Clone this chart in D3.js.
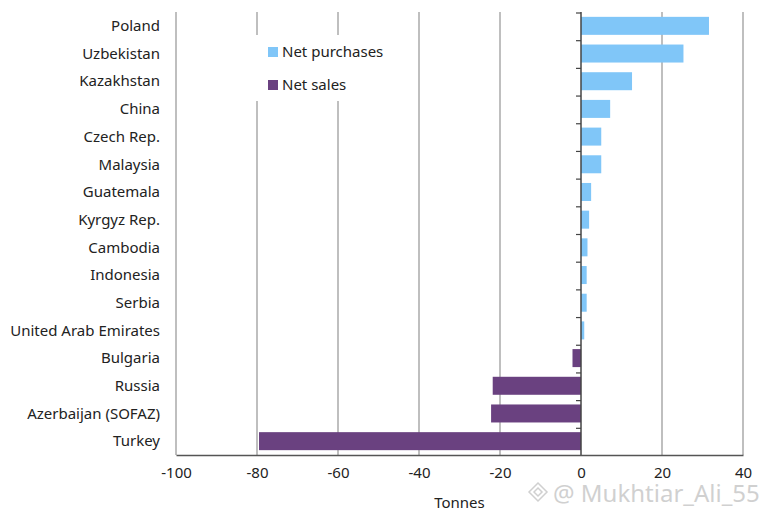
<!DOCTYPE html>
<html>
<head>
<meta charset="utf-8">
<script src="https://cdn.jsdelivr.net/npm/d3@7"></script>
<style>
  body { margin: 0; background: #fff; }
  svg { font-family: "Noto Sans", "Open Sans", sans-serif; }
</style>
</head>
<body>
<script>
const countries = ["Poland", "Uzbekistan", "Kazakhstan", "China", "Czech Rep.", "Malaysia", "Guatemala",
    "Kyrgyz Rep.", "Cambodia", "Indonesia", "Serbia", "United Arab Emirates", "Bulgaria", "Russia",
    "Azerbaijan (SOFAZ)", "Turkey"];
const tonnes = [31.6, 25.3, 12.6, 7.2, 5.0, 5.0, 2.5, 2.0, 1.6, 1.4, 1.4, 0.8, -2.1, -21.8, -22.2, -79.5];
const xTicks = [-100, -80, -60, -40, -20, 0, 20, 40];
const legendLabels = ["Net purchases", "Net sales"];

const width = 768;
const height = 518;
const margin = { top: 12, right: 25, bottom: 63, left: 176 };
const blue = "#80c6f8";
const purple = "#6a4180";

const svg = d3.select("body")
              .append("svg")
              .attr("width", width)
              .attr("height", height);

const xScale = d3.scaleLinear()
                 .domain([-100, 40])
                 .range([margin.left, width - margin.right]);

const yScale = d3.scaleBand()
                 .domain(countries)
                 .range([margin.top, height - margin.bottom])
                 .paddingInner(0.35)
                 .paddingOuter(0.175);

// vertical gridlines
svg.append("g")
   .selectAll("line")
   .data(xTicks.filter(t => t !== 0))
   .enter()
   .append("line")
   .attr("x1", d => xScale(d))
   .attr("x2", d => xScale(d))
   .attr("y1", margin.top)
   .attr("y2", height - margin.bottom)
   .attr("stroke", "#aaaaaa")
   .attr("stroke-width", 1.5);

// legend box covers the gridlines behind it
const legend = svg.append("g").attr("transform", "translate(250, 35)");
legend.append("rect")
      .attr("width", 145)
      .attr("height", 66)
      .attr("fill", "#fff");
legendLabels.forEach((label, i) => {
    legend.append("rect")
          .attr("x", 18)
          .attr("y", 12 + i * 33)
          .attr("width", 10)
          .attr("height", 10)
          .attr("fill", i === 0 ? blue : purple);
    legend.append("text")
          .attr("x", 32)
          .attr("y", 17 + i * 33)
          .attr("dy", "0.35em")
          .style("font-size", "15px")
          .attr("fill", "#222")
          .text(label);
});

// bars
svg.append("g")
   .selectAll("rect")
   .data(countries)
   .enter()
   .append("rect")
   .attr("x", (d, i) => xScale(Math.min(0, tonnes[i])))
   .attr("y", d => yScale(d))
   .attr("width", (d, i) => Math.abs(xScale(tonnes[i]) - xScale(0)))
   .attr("height", yScale.bandwidth())
   .attr("fill", (d, i) => tonnes[i] >= 0 ? blue : purple);

// zero axis with ticks between categories
const step = yScale.step();
const zero = svg.append("g");
zero.append("line")
    .attr("x1", xScale(0))
    .attr("x2", xScale(0))
    .attr("y1", margin.top)
    .attr("y2", height - margin.bottom)
    .attr("stroke", "#444")
    .attr("stroke-width", 1.5);
zero.selectAll(".cat-tick")
    .data(d3.range(countries.length))
    .enter()
    .append("line")
    .attr("class", "cat-tick")
    .attr("x1", xScale(0) - 5)
    .attr("x2", xScale(0))
    .attr("y1", i => margin.top + i * step + 1)
    .attr("y2", i => margin.top + i * step + 1)
    .attr("stroke", "#444")
    .attr("stroke-width", 1.2);

// category labels
svg.append("g")
   .selectAll("text")
   .data(countries)
   .enter()
   .append("text")
   .attr("x", 160)
   .attr("y", d => yScale(d) + yScale.bandwidth() / 2)
   .attr("dy", "0.35em")
   .attr("text-anchor", "end")
   .style("font-size", "15px")
   .attr("fill", "#222")
   .text(d => d);

// bottom axis
const xAxis = d3.axisBottom(xScale)
                .tickValues(xTicks)
                .tickSize(0)
                .tickPadding(12)
                .tickFormat(d => String(d));
const xg = svg.append("g")
              .attr("transform", "translate(0, " + (height - margin.bottom) + ")")
              .call(xAxis);
xg.select(".domain").attr("stroke", "#555").attr("stroke-width", 1.5);
xg.selectAll("text")
  .style("font-size", "15px")
  .style("font-family", "\"Noto Sans\", sans-serif")
  .attr("fill", "#222");

svg.append("text")
   .attr("x", xScale(-30))
   .attr("y", 508)
   .attr("text-anchor", "middle")
   .style("font-size", "15px")
   .attr("fill", "#222")
   .text("Tonnes");

// watermark
const wm = svg.append("g").attr("opacity", 0.45);
wm.append("path")
  .attr("d", "M538,483 l9,9 l-9,9 l-9,-9 Z M538,488 l4,4 l-4,4 l-4,-4 Z")
  .attr("fill", "none")
  .attr("stroke", "#999")
  .attr("stroke-width", 1.5);
wm.append("text")
  .attr("x", 553)
  .attr("y", 502)
  .style("font-size", "24px")
  .attr("fill", "#999")
  .text("@ Mukhtiar_Ali_55");
</script>
</body>
</html>
